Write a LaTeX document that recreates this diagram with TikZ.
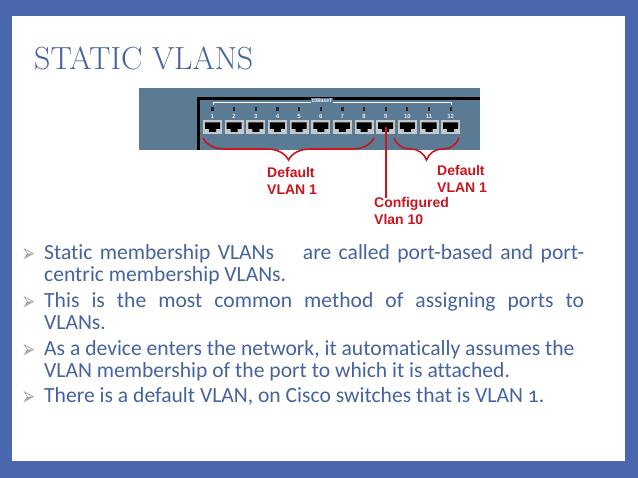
\documentclass[tikz,border=0pt]{standalone}
\usepackage{fontspec}
\setmainfont{Carlito}[Numbers=OldStyle,Ligatures=NoCommon]
\newfontfamily\armfont{Liberation Sans}[BoldFont={Liberation Sans Bold}]
\newfontfamily\markfont{DejaVu Sans}
\newfontfamily\headfont{Latin Modern Roman}
\usetikzlibrary{positioning, decorations.pathreplacing}
\definecolor{slideblue}{HTML}{4A66AC}
\definecolor{textblue}{HTML}{46639F}
\definecolor{switchblue}{HTML}{5B7A94}
\definecolor{portgrey}{HTML}{C4C8CA}
\definecolor{calloutred}{HTML}{C8161E}
\tikzset{
  callout/.style={anchor=base west,inner sep=0pt,align=left,text=calloutred,font=\armfont\bfseries\fontsize{14}{17}\selectfont},
  bullettext/.style={anchor=base west,inner sep=0pt,align=left,text=textblue,font=\fontsize{21.6}{21.5}\selectfont},
  bulletmark/.style={anchor=base west,inner sep=0pt,text=black!35,font=\markfont\fontsize{19}{19}\selectfont},
  portbox/.style={fill=portgrey,minimum width=19pt,minimum height=14pt,inner sep=0pt},
  portnum/.style={text=white!85!switchblue,inner sep=0pt,font=\armfont\bfseries\fontsize{6}{6}\selectfont},
  redbrace/.style={draw=calloutred,line width=1.6pt,decorate,decoration={brace,mirror,amplitude=22pt}}
}
\newcommand{\fullline}[1]{\makebox[540pt][s]{#1}}
\newcommand{\arrowmark}{\scalebox{0.85}[1.4]{➢}}
\begin{document}
\begin{tikzpicture}[x=1pt,y=-1pt]
\useasboundingbox (0,0) rectangle (638,478);
\fill[slideblue] (0,0) rectangle (638,478);
\fill[white] (12,16) rectangle (625,461);

\node[anchor=base west,inner sep=0pt,text=textblue,font=\headfont\fontsize{32}{32}\selectfont] (title) at (34,69.5) {STATIC VLANS};

\fill[switchblue] (139,88) rectangle (480,150);
\fill[black] (197,97) rectangle (480,100);
\fill[black] (197,97) rectangle (200,150);
\draw[white,line width=0.8pt] (213,105) |- (451,102) -- (451,105);
\node[fill=switchblue,inner sep=1pt,text=white,font=\armfont\bfseries\fontsize{5}{5}\selectfont] (speed) at (322,101) {10BaseT};

\foreach \i in {1,...,12} {
  \pgfmathsetmacro{\px}{212.5+21.65*(\i-1)}
  \fill[black!85] (\px-1.1,107) rectangle (\px+1.1,111);
  \node[portnum] (num\i) at (\px,116) {\i};
  \node[portbox] (port\i) at (\px,127.5) {};
  \fill[black] (\px-7.5,122.5) -- (\px+7.5,122.5) -- (\px+7.5,129) -- (\px+3.5,129) -- (\px+3.5,132) -- (\px-3.5,132) -- (\px-3.5,129) -- (\px-7.5,129) -- cycle;
}

\draw[redbrace] (203,138) -- (374,138);
\draw[redbrace] (394,138) -- (459,138);

\node[callout] (left) at (267,195) {Default\\VLAN 1};
\node[callout] (right) at (437,193) {Default\\VLAN 1};
\node[callout] (conf) at (374,225) {Configured\\Vlan 10};
\draw[calloutred,line width=1.6pt] (port9.center) -- (port9.center |- conf.north);

\node[bulletmark] (m1) at (21.5,263) {\arrowmark};
\node[bullettext] (b1) at (44,281.5) {\fullline{Static membership VLANs \quad are called port-based and port-}\\centric membership VLANs.};
\node[bulletmark] (m2) at (21.5,311) {\arrowmark};
\node[bullettext] (b2) at (44,329.5) {\fullline{This is the most common method of assigning ports to}\\VLANs.};
\node[bulletmark] (m3) at (21.5,359) {\arrowmark};
\node[bullettext] (b3) at (44,377.5) {As a device enters the network, it automatically assumes the\\VLAN membership of the port to which it is attached.};
\node[bulletmark] (m4) at (21.5,406) {\arrowmark};
\node[bullettext] (b4) at (44,403) {There is a default VLAN, on Cisco switches that is VLAN 1.};
\end{tikzpicture}
\end{document}
